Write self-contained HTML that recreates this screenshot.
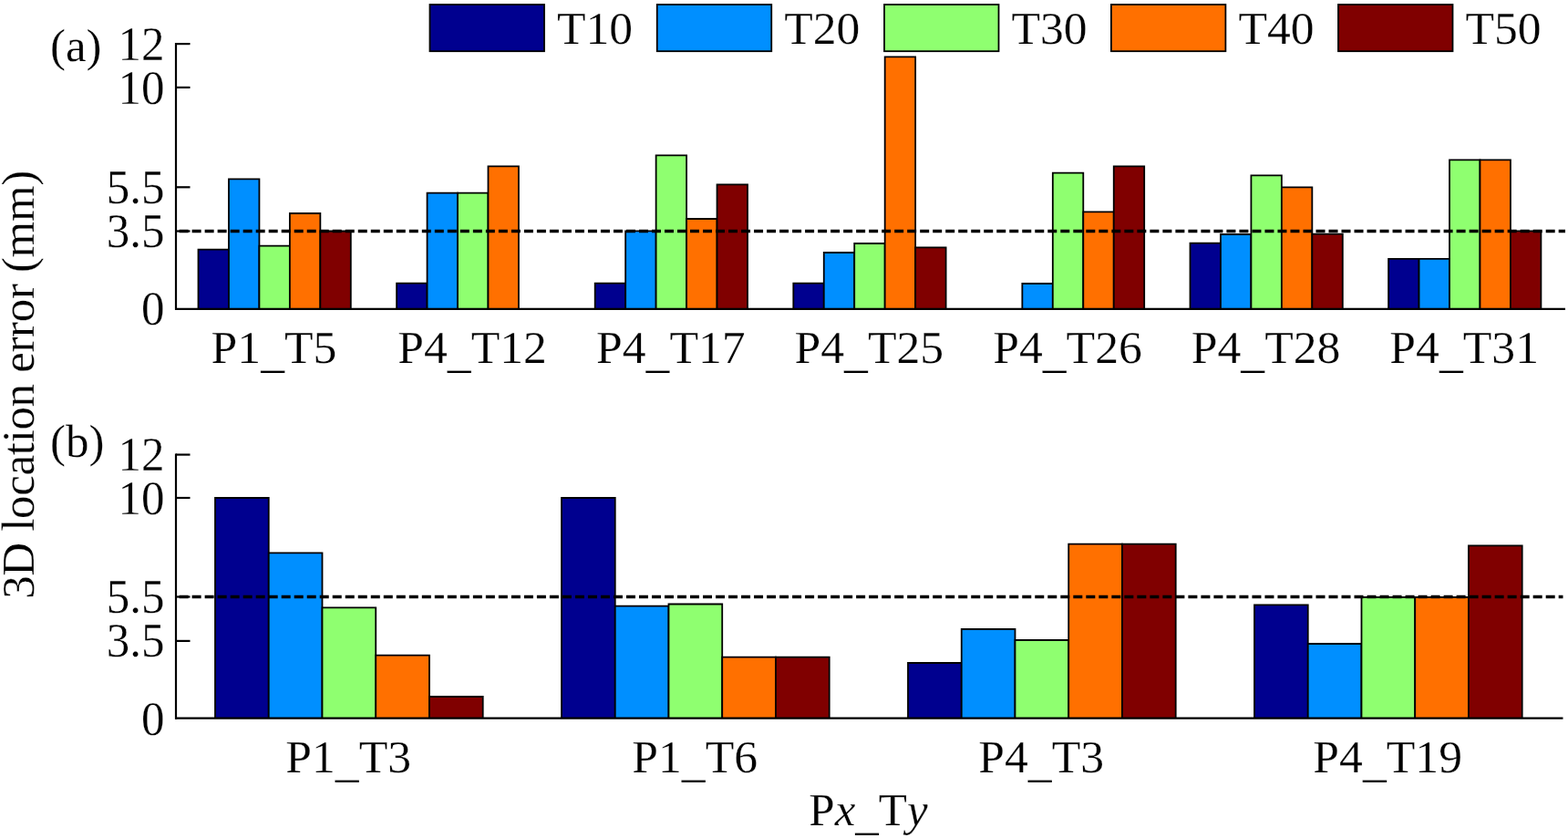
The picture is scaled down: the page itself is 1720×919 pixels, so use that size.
<!DOCTYPE html>
<html lang="en"><head><meta charset="utf-8"><title>3D location error</title>
<style>
html,body{margin:0;padding:0;background:#fff;}
body{width:1720px;height:919px;overflow:hidden;}
svg{display:block;}
text{stroke:#fff;stroke-width:0.25px;font-family:"Liberation Serif","Times New Roman",serif;font-size:51px;fill:#000;}
.ax{stroke:#000;stroke-width:2.2;fill:none;}
.bar{stroke:#000;stroke-width:1.8;}
.dash{stroke:#000;stroke-width:3.5;stroke-dasharray:10 4.01;stroke-dashoffset:10.4;fill:none;}
</style></head><body>
<svg width="1720" height="919" viewBox="0 0 1720 919">
<rect x="0" y="0" width="1720" height="919" fill="#fff"/>
<rect class="bar" x="471.50" y="5" width="125.5" height="51.2" fill="#00008F"/>
<text x="611.0" y="48" style="font-size:51.6px">T10</text>
<rect class="bar" x="720.75" y="5" width="125.5" height="51.2" fill="#008FFF"/>
<text x="860.2" y="48" style="font-size:51.6px">T20</text>
<rect class="bar" x="970.00" y="5" width="125.5" height="51.2" fill="#8FFF70"/>
<text x="1109.5" y="48" style="font-size:51.6px">T30</text>
<rect class="bar" x="1218.90" y="5" width="125.5" height="51.2" fill="#FF7000"/>
<text x="1358.4" y="48" style="font-size:51.6px">T40</text>
<rect class="bar" x="1468.00" y="5" width="125.5" height="51.2" fill="#800000"/>
<text x="1607.5" y="48" style="font-size:51.6px">T50</text>
<rect x="217.50" y="273.70" width="33.46" height="65.10" fill="#00008F"/>
<path class="bar" fill="none" d="M217.50 338.8 V273.70 H250.96 V338.8"/>
<rect x="250.96" y="196.30" width="33.46" height="142.50" fill="#008FFF"/>
<path class="bar" fill="none" d="M250.96 338.8 V196.30 H284.42 V338.8"/>
<rect x="284.42" y="269.70" width="33.46" height="69.10" fill="#8FFF70"/>
<path class="bar" fill="none" d="M284.42 338.8 V269.70 H317.88 V338.8"/>
<rect x="317.88" y="234.00" width="33.46" height="104.80" fill="#FF7000"/>
<path class="bar" fill="none" d="M317.88 338.8 V234.00 H351.34 V338.8"/>
<rect x="351.34" y="253.50" width="33.46" height="85.30" fill="#800000"/>
<path class="bar" fill="none" d="M351.34 338.8 V253.50 H384.80 V338.8"/>
<rect x="435.10" y="310.70" width="33.46" height="28.10" fill="#00008F"/>
<path class="bar" fill="none" d="M435.10 338.8 V310.70 H468.56 V338.8"/>
<rect x="468.56" y="211.70" width="33.46" height="127.10" fill="#008FFF"/>
<path class="bar" fill="none" d="M468.56 338.8 V211.70 H502.02 V338.8"/>
<rect x="502.02" y="211.70" width="33.46" height="127.10" fill="#8FFF70"/>
<path class="bar" fill="none" d="M502.02 338.8 V211.70 H535.48 V338.8"/>
<rect x="535.48" y="182.30" width="33.46" height="156.50" fill="#FF7000"/>
<path class="bar" fill="none" d="M535.48 338.8 V182.30 H568.94 V338.8"/>
<rect x="652.70" y="310.70" width="33.46" height="28.10" fill="#00008F"/>
<path class="bar" fill="none" d="M652.70 338.8 V310.70 H686.16 V338.8"/>
<rect x="686.16" y="253.30" width="33.46" height="85.50" fill="#008FFF"/>
<path class="bar" fill="none" d="M686.16 338.8 V253.30 H719.62 V338.8"/>
<rect x="719.62" y="170.30" width="33.46" height="168.50" fill="#8FFF70"/>
<path class="bar" fill="none" d="M719.62 338.8 V170.30 H753.08 V338.8"/>
<rect x="753.08" y="240.00" width="33.46" height="98.80" fill="#FF7000"/>
<path class="bar" fill="none" d="M753.08 338.8 V240.00 H786.54 V338.8"/>
<rect x="786.54" y="202.30" width="33.46" height="136.50" fill="#800000"/>
<path class="bar" fill="none" d="M786.54 338.8 V202.30 H820.00 V338.8"/>
<rect x="870.30" y="310.70" width="33.46" height="28.10" fill="#00008F"/>
<path class="bar" fill="none" d="M870.30 338.8 V310.70 H903.76 V338.8"/>
<rect x="903.76" y="277.00" width="33.46" height="61.80" fill="#008FFF"/>
<path class="bar" fill="none" d="M903.76 338.8 V277.00 H937.22 V338.8"/>
<rect x="937.22" y="267.00" width="33.46" height="71.80" fill="#8FFF70"/>
<path class="bar" fill="none" d="M937.22 338.8 V267.00 H970.68 V338.8"/>
<rect x="970.68" y="62.30" width="33.46" height="276.50" fill="#FF7000"/>
<path class="bar" fill="none" d="M970.68 338.8 V62.30 H1004.14 V338.8"/>
<rect x="1004.14" y="271.30" width="33.46" height="67.50" fill="#800000"/>
<path class="bar" fill="none" d="M1004.14 338.8 V271.30 H1037.60 V338.8"/>
<rect x="1121.36" y="311.00" width="33.46" height="27.80" fill="#008FFF"/>
<path class="bar" fill="none" d="M1121.36 338.8 V311.00 H1154.82 V338.8"/>
<rect x="1154.82" y="189.70" width="33.46" height="149.10" fill="#8FFF70"/>
<path class="bar" fill="none" d="M1154.82 338.8 V189.70 H1188.28 V338.8"/>
<rect x="1188.28" y="232.30" width="33.46" height="106.50" fill="#FF7000"/>
<path class="bar" fill="none" d="M1188.28 338.8 V232.30 H1221.74 V338.8"/>
<rect x="1221.74" y="182.30" width="33.46" height="156.50" fill="#800000"/>
<path class="bar" fill="none" d="M1221.74 338.8 V182.30 H1255.20 V338.8"/>
<rect x="1305.50" y="266.70" width="33.46" height="72.10" fill="#00008F"/>
<path class="bar" fill="none" d="M1305.50 338.8 V266.70 H1338.96 V338.8"/>
<rect x="1338.96" y="257.00" width="33.46" height="81.80" fill="#008FFF"/>
<path class="bar" fill="none" d="M1338.96 338.8 V257.00 H1372.42 V338.8"/>
<rect x="1372.42" y="192.30" width="33.46" height="146.50" fill="#8FFF70"/>
<path class="bar" fill="none" d="M1372.42 338.8 V192.30 H1405.88 V338.8"/>
<rect x="1405.88" y="205.30" width="33.46" height="133.50" fill="#FF7000"/>
<path class="bar" fill="none" d="M1405.88 338.8 V205.30 H1439.34 V338.8"/>
<rect x="1439.34" y="256.70" width="33.46" height="82.10" fill="#800000"/>
<path class="bar" fill="none" d="M1439.34 338.8 V256.70 H1472.80 V338.8"/>
<rect x="1523.10" y="283.80" width="33.46" height="55.00" fill="#00008F"/>
<path class="bar" fill="none" d="M1523.10 338.8 V283.80 H1556.56 V338.8"/>
<rect x="1556.56" y="283.80" width="33.46" height="55.00" fill="#008FFF"/>
<path class="bar" fill="none" d="M1556.56 338.8 V283.80 H1590.02 V338.8"/>
<rect x="1590.02" y="175.30" width="33.46" height="163.50" fill="#8FFF70"/>
<path class="bar" fill="none" d="M1590.02 338.8 V175.30 H1623.48 V338.8"/>
<rect x="1623.48" y="175.30" width="33.46" height="163.50" fill="#FF7000"/>
<path class="bar" fill="none" d="M1623.48 338.8 V175.30 H1656.94 V338.8"/>
<rect x="1656.94" y="253.30" width="33.46" height="85.50" fill="#800000"/>
<path class="bar" fill="none" d="M1656.94 338.8 V253.30 H1690.40 V338.8"/>
<path class="ax" d="M193.0 47.1 V339.8"/>
<path class="ax" d="M192.0 338.8 H1717"/>
<path class="ax" d="M193.0 48.1 h15.5"/>
<path class="ax" d="M193.0 95.9 h15.5"/>
<path class="ax" d="M193.0 205.3 h15.5"/>
<path class="ax" d="M193.0 253.5 h15.5"/>
<path class="dash" d="M193.0 253.5 H1717"/>
<text transform="translate(180.5 65.8) scale(1 1.03)" text-anchor="end">12</text>
<text transform="translate(180.5 114.3) scale(1 1.03)" text-anchor="end">10</text>
<text transform="translate(180.5 222.5) scale(1 1.03)" text-anchor="end">5.5</text>
<text transform="translate(180.5 271.0) scale(1 1.03)" text-anchor="end">3.5</text>
<text transform="translate(180.5 356.0) scale(1 1.03)" text-anchor="end">0</text>
<text x="300.5" y="398" text-anchor="middle" style="font-size:51.7px">P1<tspan dy="4">_</tspan><tspan dy="-4">T5</tspan></text>
<text x="518.1" y="398" text-anchor="middle" style="font-size:51.7px">P4<tspan dy="4">_</tspan><tspan dy="-4">T12</tspan></text>
<text x="735.8" y="398" text-anchor="middle" style="font-size:51.7px">P4<tspan dy="4">_</tspan><tspan dy="-4">T17</tspan></text>
<text x="953.3" y="398" text-anchor="middle" style="font-size:51.7px">P4<tspan dy="4">_</tspan><tspan dy="-4">T25</tspan></text>
<text x="1171.0" y="398" text-anchor="middle" style="font-size:51.7px">P4<tspan dy="4">_</tspan><tspan dy="-4">T26</tspan></text>
<text x="1388.6" y="398" text-anchor="middle" style="font-size:51.7px">P4<tspan dy="4">_</tspan><tspan dy="-4">T28</tspan></text>
<text x="1606.2" y="398" text-anchor="middle" style="font-size:51.7px">P4<tspan dy="4">_</tspan><tspan dy="-4">T31</tspan></text>
<text x="55" y="66.5">(a)</text>
<rect x="236.00" y="546.00" width="58.74" height="241.70" fill="#00008F"/>
<path class="bar" fill="none" d="M236.00 787.7 V546.00 H294.74 V787.7"/>
<rect x="294.74" y="606.30" width="58.74" height="181.40" fill="#008FFF"/>
<path class="bar" fill="none" d="M294.74 787.7 V606.30 H353.48 V787.7"/>
<rect x="353.48" y="666.30" width="58.74" height="121.40" fill="#8FFF70"/>
<path class="bar" fill="none" d="M353.48 787.7 V666.30 H412.22 V787.7"/>
<rect x="412.22" y="718.70" width="58.74" height="69.00" fill="#FF7000"/>
<path class="bar" fill="none" d="M412.22 787.7 V718.70 H470.96 V787.7"/>
<rect x="470.96" y="764.00" width="58.74" height="23.70" fill="#800000"/>
<path class="bar" fill="none" d="M470.96 787.7 V764.00 H529.70 V787.7"/>
<rect x="616.00" y="546.00" width="58.74" height="241.70" fill="#00008F"/>
<path class="bar" fill="none" d="M616.00 787.7 V546.00 H674.74 V787.7"/>
<rect x="674.74" y="664.70" width="58.74" height="123.00" fill="#008FFF"/>
<path class="bar" fill="none" d="M674.74 787.7 V664.70 H733.48 V787.7"/>
<rect x="733.48" y="662.50" width="58.74" height="125.20" fill="#8FFF70"/>
<path class="bar" fill="none" d="M733.48 787.7 V662.50 H792.22 V787.7"/>
<rect x="792.22" y="720.70" width="58.74" height="67.00" fill="#FF7000"/>
<path class="bar" fill="none" d="M792.22 787.7 V720.70 H850.96 V787.7"/>
<rect x="850.96" y="720.70" width="58.74" height="67.00" fill="#800000"/>
<path class="bar" fill="none" d="M850.96 787.7 V720.70 H909.70 V787.7"/>
<rect x="996.00" y="727.00" width="58.74" height="60.70" fill="#00008F"/>
<path class="bar" fill="none" d="M996.00 787.7 V727.00 H1054.74 V787.7"/>
<rect x="1054.74" y="690.00" width="58.74" height="97.70" fill="#008FFF"/>
<path class="bar" fill="none" d="M1054.74 787.7 V690.00 H1113.48 V787.7"/>
<rect x="1113.48" y="702.00" width="58.74" height="85.70" fill="#8FFF70"/>
<path class="bar" fill="none" d="M1113.48 787.7 V702.00 H1172.22 V787.7"/>
<rect x="1172.22" y="596.70" width="58.74" height="191.00" fill="#FF7000"/>
<path class="bar" fill="none" d="M1172.22 787.7 V596.70 H1230.96 V787.7"/>
<rect x="1230.96" y="596.70" width="58.74" height="191.00" fill="#800000"/>
<path class="bar" fill="none" d="M1230.96 787.7 V596.70 H1289.70 V787.7"/>
<rect x="1376.00" y="663.30" width="58.74" height="124.40" fill="#00008F"/>
<path class="bar" fill="none" d="M1376.00 787.7 V663.30 H1434.74 V787.7"/>
<rect x="1434.74" y="706.00" width="58.74" height="81.70" fill="#008FFF"/>
<path class="bar" fill="none" d="M1434.74 787.7 V706.00 H1493.48 V787.7"/>
<rect x="1493.48" y="655.00" width="58.74" height="132.70" fill="#8FFF70"/>
<path class="bar" fill="none" d="M1493.48 787.7 V655.00 H1552.22 V787.7"/>
<rect x="1552.22" y="655.00" width="58.74" height="132.70" fill="#FF7000"/>
<path class="bar" fill="none" d="M1552.22 787.7 V655.00 H1610.96 V787.7"/>
<rect x="1610.96" y="598.30" width="58.74" height="189.40" fill="#800000"/>
<path class="bar" fill="none" d="M1610.96 787.7 V598.30 H1669.70 V787.7"/>
<path class="ax" d="M193.0 497.6 V788.7"/>
<path class="ax" d="M192.0 787.7 H1714.5"/>
<path class="ax" d="M193.0 498.6 h15.5"/>
<path class="ax" d="M193.0 546 h15.5"/>
<path class="ax" d="M193.0 654.5 h15.5"/>
<path class="ax" d="M193.0 702.9 h15.5"/>
<path class="dash" d="M193.0 654.5 H1714.5"/>
<text transform="translate(180.5 515.8) scale(1 1.03)" text-anchor="end">12</text>
<text transform="translate(180.5 563.6) scale(1 1.03)" text-anchor="end">10</text>
<text transform="translate(180.5 672.0) scale(1 1.03)" text-anchor="end">5.5</text>
<text transform="translate(180.5 720.4) scale(1 1.03)" text-anchor="end">3.5</text>
<text transform="translate(180.5 805.5) scale(1 1.03)" text-anchor="end">0</text>
<text x="382.2" y="846.8" text-anchor="middle" style="font-size:51.7px">P1<tspan dy="4">_</tspan><tspan dy="-4">T3</tspan></text>
<text x="762.2" y="846.8" text-anchor="middle" style="font-size:51.7px">P1<tspan dy="4">_</tspan><tspan dy="-4">T6</tspan></text>
<text x="1142.2" y="846.8" text-anchor="middle" style="font-size:51.7px">P4<tspan dy="4">_</tspan><tspan dy="-4">T3</tspan></text>
<text x="1522.2" y="846.8" text-anchor="middle" style="font-size:51.7px">P4<tspan dy="4">_</tspan><tspan dy="-4">T19</tspan></text>
<text x="55" y="501">(b)</text>
<text transform="translate(37 421.8) rotate(-90)" text-anchor="middle" textLength="470" lengthAdjust="spacing">3D location error (mm)</text>
<text x="952.5" y="905" text-anchor="middle">P<tspan font-style="italic">x</tspan><tspan dy="4">_</tspan><tspan dy="-4">T</tspan><tspan font-style="italic">y</tspan></text>
</svg></body></html>
